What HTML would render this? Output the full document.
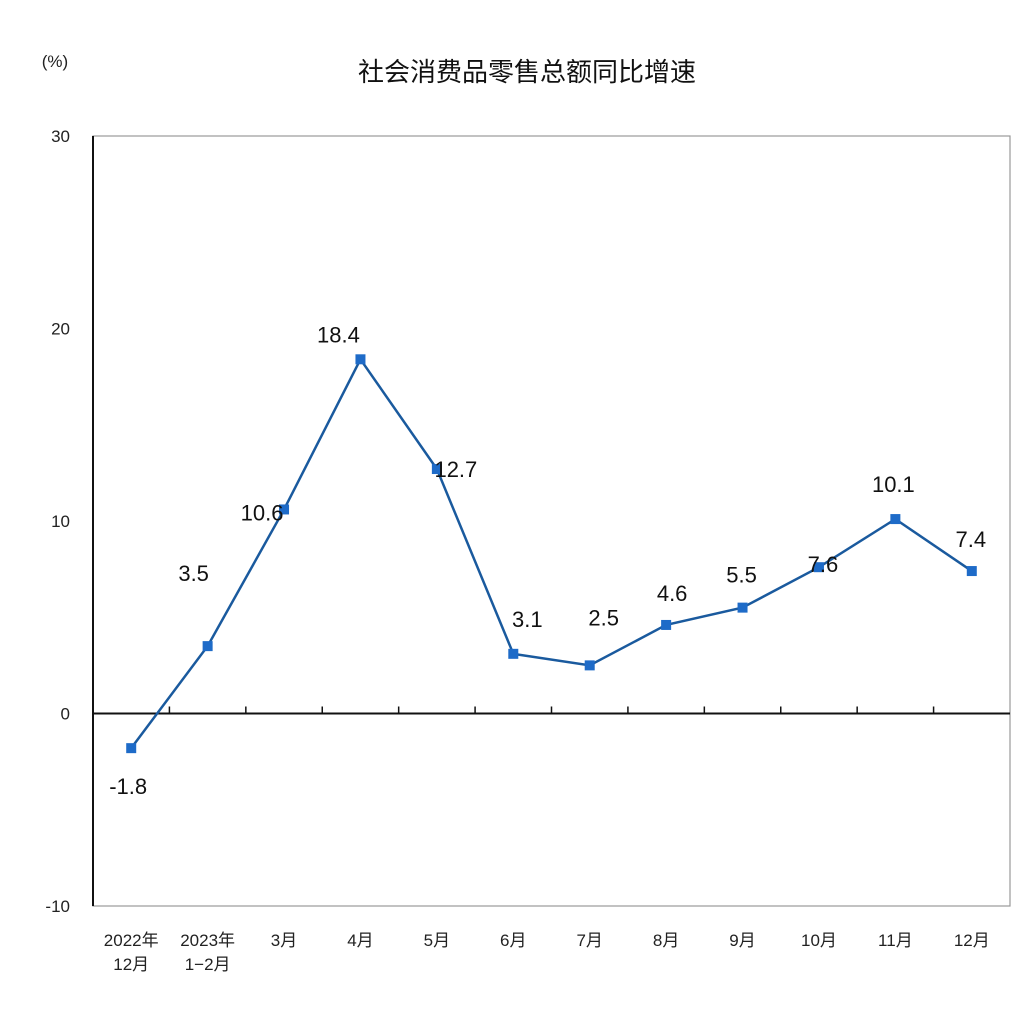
<!DOCTYPE html>
<html><head><meta charset="utf-8"><style>
body{margin:0;background:#fff;}
svg text{font-family:"Liberation Sans","Noto Sans CJK SC",sans-serif;}
</style></head><body>
<svg width="1032" height="1006" viewBox="0 0 1032 1006" xmlns="http://www.w3.org/2000/svg">
<text x="527" y="81" text-anchor="middle" font-size="26" fill="#111">社会消费品零售总额同比增速</text>
<text x="55" y="67" text-anchor="middle" font-size="17" fill="#222">(%)</text>
<rect x="93" y="136" width="917" height="770" fill="none" stroke="#999" stroke-width="1.2"/>
<g id="yticks"></g>
<g id="xaxis"></g>
<g id="series"></g>
</svg>
<script>
const categories=[["2022年","12月"],["2023年","1−2月"],["3月"],["4月"],["5月"],["6月"],["7月"],["8月"],["9月"],["10月"],["11月"],["12月"]];
const values=[-1.8,3.5,10.6,18.4,12.7,3.1,2.5,4.6,5.5,7.6,10.1,7.4];
const labels=["-1.8","3.5","10.6","18.4","12.7","3.1","2.5","4.6","5.5","7.6","10.1","7.4"];
const yTicks=[30,20,10,0,-10];
// label placement offsets (styling, px relative to point)
const labelDx=[-3,-14,-22,-22,19,14,14,6,-1,4,-2,-1];
const labelDy=[38,-73,3,-25,0,-35,-48,-32,-33,-3,-35,-32];
const NS="http://www.w3.org/2000/svg";
const L=93,R=1010,T=136,B=906,yMin=-10,yMax=30;
const bw=(R-L)/categories.length;
const x=i=>L+bw*(i+0.5);
const y=v=>B-(v-yMin)/(yMax-yMin)*(B-T);
function mk(tag,attrs,parent,text){const e=document.createElementNS(NS,tag);for(const k in attrs)e.setAttribute(k,attrs[k]);if(text!==undefined)e.textContent=text;parent.appendChild(e);return e;}
const yg=document.getElementById('yticks');
yTicks.forEach(v=>{
 const t=mk('text',{x:70,y:y(v)+6,'text-anchor':'end','font-size':17,fill:'#222'},yg,String(v));
 
 
});
const xg=document.getElementById('xaxis');
const ax=mk('line',{x1:L,y1:T,x2:L,y2:B,stroke:'#111','stroke-width':2},xg);


const zl=mk('line',{x1:L,y1:y(0),x2:R,y2:y(0),stroke:'#111','stroke-width':2},xg);


for(let i=1;i<categories.length;i++){
 const tk=mk('line',{x1:L+bw*i,y1:y(0),x2:L+bw*i,y2:y(0)-7,stroke:'#111','stroke-width':1.5},xg);
 
 
}
categories.forEach((c,i)=>{
 c.forEach((s,j)=>{
  const t=mk('text',{x:x(i),y:946+j*24,'text-anchor':'middle','font-size':17,fill:'#222'},xg,s);
  
  
 });
});
const sg=document.getElementById('series');
const pl=mk('polyline',{points:values.map((v,i)=>x(i)+','+y(v)).join(' '),fill:'none',stroke:'#1a5a9e','stroke-width':2.5},sg);


values.forEach((v,i)=>{
 const m=mk('rect',{x:x(i)-5,y:y(v)-5,width:10,height:10,fill:'#1e6bc8'},sg);
 
 
 const t=mk('text',{x:x(i)+labelDx[i],y:y(v)+labelDy[i]+8,'text-anchor':'middle','font-size':22,fill:'#111'},sg,labels[i]);
 
 
});
</script>
</body></html>
